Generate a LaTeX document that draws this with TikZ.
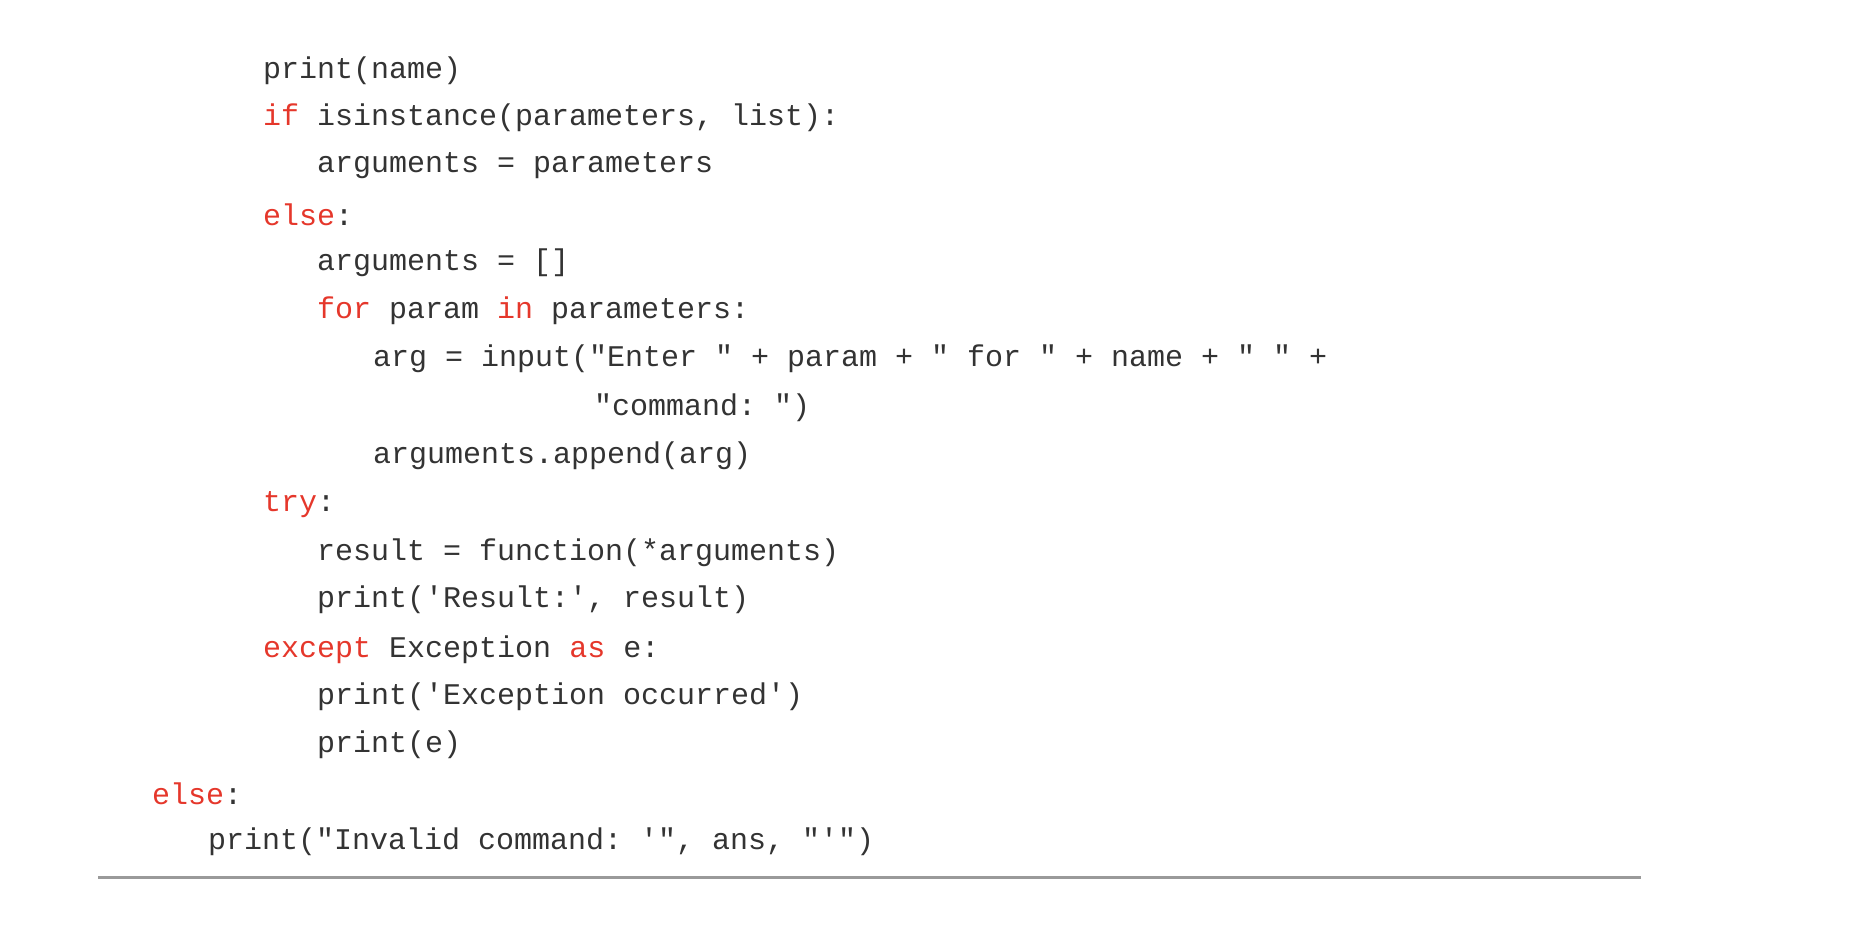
\documentclass[tikz,border=0pt]{standalone}
\usepackage{fontspec}
\setmonofont{Liberation Mono}
\definecolor{kw}{HTML}{E5372B}
\definecolor{tx}{HTML}{333333}
\definecolor{rule}{HTML}{9A9A9A}
\begin{document}
\begin{tikzpicture}[x=1pt,y=-1pt,
  code/.style={anchor=west,inner sep=0pt,font=\fontsize{30}{30}\selectfont\ttfamily,text=tx}]
\useasboundingbox (0,0) rectangle (1866,928);
\newcommand\K[1]{\textcolor{kw}{#1}}
\node[code] (l1) at (263,71) {print(name)};
\node[code] (l2) at (263,118) {\K{if} isinstance(parameters, list):};
\node[code] (l3) at (317,166) {arguments = parameters};
\node[code] (l4) at (263,215) {\K{else}:};
\node[code] (l5) at (317,263) {arguments = []};
\node[code] (l6) at (317,311) {\K{for} param \K{in} parameters:};
\node[code] (l7) at (373,359) {arg = input("Enter " + param + " for " + name + " " +};
\node[code] (l8) at (594,408) {"command: ")};
\node[code] (l9) at (373,456) {arguments.append(arg)};
\node[code] (l10) at (263,505) {\K{try}:};
\node[code] (l11) at (317,553) {result = function(*arguments)};
\node[code] (l12) at (317,600) {print('Result:', result)};
\node[code] (l13) at (263,650) {\K{except} Exception \K{as} e:};
\node[code] (l14) at (317,697) {print('Exception occurred')};
\node[code] (l15) at (317,745) {print(e)};
\node[code] (l16) at (152,794) {\K{else}:};
\node[code] (l17) at (208,842) {print("Invalid command: '", ans, "'")};
\coordinate (r1) at (98,877);
\coordinate (r2) at (1641,877);
\draw[rule,line width=3pt] (r1) -- (r2);
\end{tikzpicture}
\end{document}
